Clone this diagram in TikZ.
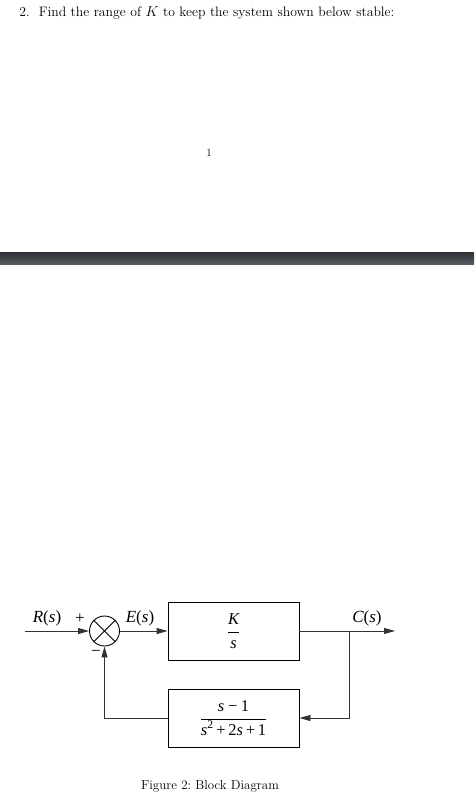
\documentclass[tikz,border=0pt]{standalone}
\usepackage{amsmath}
\usepackage{fontspec}
\usepackage{tikz}
\usetikzlibrary{arrows.meta}
\newfontfamily\tnr{Liberation Serif}
\definecolor{barTop}{HTML}{2E3236}
\definecolor{barBot}{HTML}{575C61}
\definecolor{wire}{HTML}{333333}

\begin{document}
\begin{tikzpicture}[x=1pt,y=-1pt,>={Triangle[length=11pt,width=6pt]},line width=0.9pt]
            \useasboundingbox (0,0) rectangle (474,806);
            \node[anchor=west,inner sep=0pt] (q) at (19,13) {\fontsize{13.7}{16}\selectfont 2.\ \ Find the range of $K$ to keep the system shown below stable:};
            \node[inner sep=0pt] (pg) at (209,153) {\fontsize{11}{13}\selectfont 1};
            \shade[top color=barTop,bottom color=barBot] (0,252) rectangle (474,264);
            \begin{scope}[every node/.style={draw=black,minimum width=131pt,minimum height=58pt,inner sep=0pt}]
                \node (g) at (233.5,631) {\tnr\fontsize{16.5}{19}\selectfont $\dfrac{\text{\itshape K}}{\text{\itshape s}}$};
                \node (h) at (233.5,718) {\tnr\fontsize{16.5}{19}\selectfont $\dfrac{\text{\itshape s\,−\,\upshape 1}}{\text{\itshape s\upshape\textsuperscript{2}\,+\,2\itshape s\upshape\,+\,1}}$};
            \end{scope}
            \node[draw=black,circle,minimum size=30pt,inner sep=0pt] (sum) at (104.5,631) {};
            \draw (sum.45) -- (sum.225) (sum.135) -- (sum.315);
            \begin{scope}[every node/.style={inner sep=0pt},font=\tnr\fontsize{17}{19}\selectfont]
                \node (r) at (47,618) {\itshape R\upshape(\itshape s\upshape)};
                \node (pl) at (80,619) {+};
                \node (mi) at (96,653) {−};
                \node (e) at (140,618) {\itshape E\upshape(\itshape s\upshape)};
                \node (c) at (367,618) {\itshape C\upshape(\itshape s\upshape)};
            \end{scope}
            \coordinate (in) at (25,631);
            \coordinate (out) at (395,631);
            \coordinate (br) at (349,631);
            \draw[wire] (in) edge [->] (sum.west);
            \draw[wire] (sum.east) edge [->] (g.west);
            \draw[wire] (g.east) edge [->] (out);
            \draw[wire,->] (br) |- (h.east);
            \draw[wire,->] (h.west) -| (sum.south);
            \node (cap) at (210,786) {\fontsize{13}{15}\selectfont Figure 2:\ Block Diagram};
        \end{tikzpicture}
\end{document}
